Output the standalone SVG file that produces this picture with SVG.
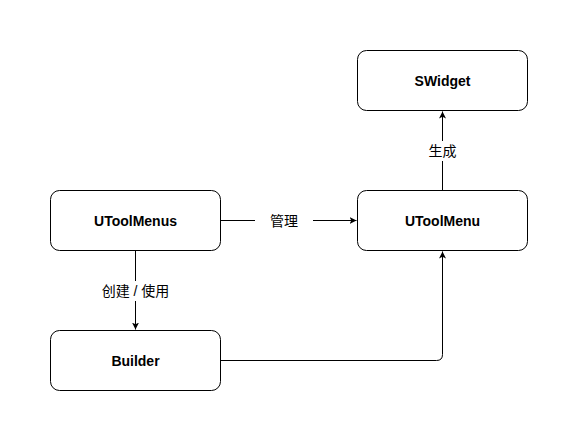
<svg xmlns="http://www.w3.org/2000/svg" width="579" height="442" viewBox="0 0 579 442">
<style>
.node rect{fill:#fff;stroke:#000;stroke-width:1}
.node text{font-family:"Liberation Sans","Noto Sans CJK SC",sans-serif;font-size:14px;font-weight:bold;fill:#000;text-anchor:middle}
.edge{fill:none;stroke:#000;stroke-width:1}
.lbl-bg{fill:#fff}
.lbl{font-family:"Liberation Sans","Noto Sans CJK SC",sans-serif;font-size:14px;fill:#000;text-anchor:middle}
</style>
<defs>
<marker id="arr" markerWidth="8" markerHeight="8" refX="7" refY="4" orient="auto" markerUnits="userSpaceOnUse">
<path d="M0,0.5 L7,4 L0,7.5 L1.8,4 Z" fill="#000"/>
</marker>
</defs>
<rect width="579" height="442" fill="#fff"/>
<g id="connectors">
<path class="edge" d="M220.5,220.5 L356.5,220.5" marker-end="url(#arr)"/>
<rect class="lbl-bg" x="255" y="211" width="58" height="20"/>
<text class="lbl" x="284" y="226">管理</text>
<path class="edge" d="M135.5,250.5 L135.5,329.5" marker-end="url(#arr)"/>
<rect class="lbl-bg" x="94" y="281" width="84" height="20"/>
<text class="lbl" x="135.5" y="296">创建 / 使用</text>
<path class="edge" d="M442.5,190.5 L442.5,111.5" marker-end="url(#arr)"/>
<rect class="lbl-bg" x="420" y="141" width="46" height="20"/>
<text class="lbl" x="442.5" y="156">生成</text>
<path class="edge" d="M220.5,360.5 L436.5,360.5 Q442.5,360.5 442.5,354.5 L442.5,251.5" marker-end="url(#arr)"/>
</g>
<g id="SWidget" class="node">
<rect x="357.5" y="50.5" width="170" height="60" rx="9" ry="9"/>
<text x="442.5" y="85.5">SWidget</text>
</g>
<g id="UToolMenus" class="node">
<rect x="50.5" y="190.5" width="170" height="60" rx="9" ry="9"/>
<text x="135.5" y="225.5">UToolMenus</text>
</g>
<g id="UToolMenu" class="node">
<rect x="357.5" y="190.5" width="170" height="60" rx="9" ry="9"/>
<text x="442.5" y="225.5">UToolMenu</text>
</g>
<g id="Builder" class="node">
<rect x="50.5" y="330.5" width="170" height="60" rx="9" ry="9"/>
<text x="135.5" y="365.5">Builder</text>
</g>
</svg>
